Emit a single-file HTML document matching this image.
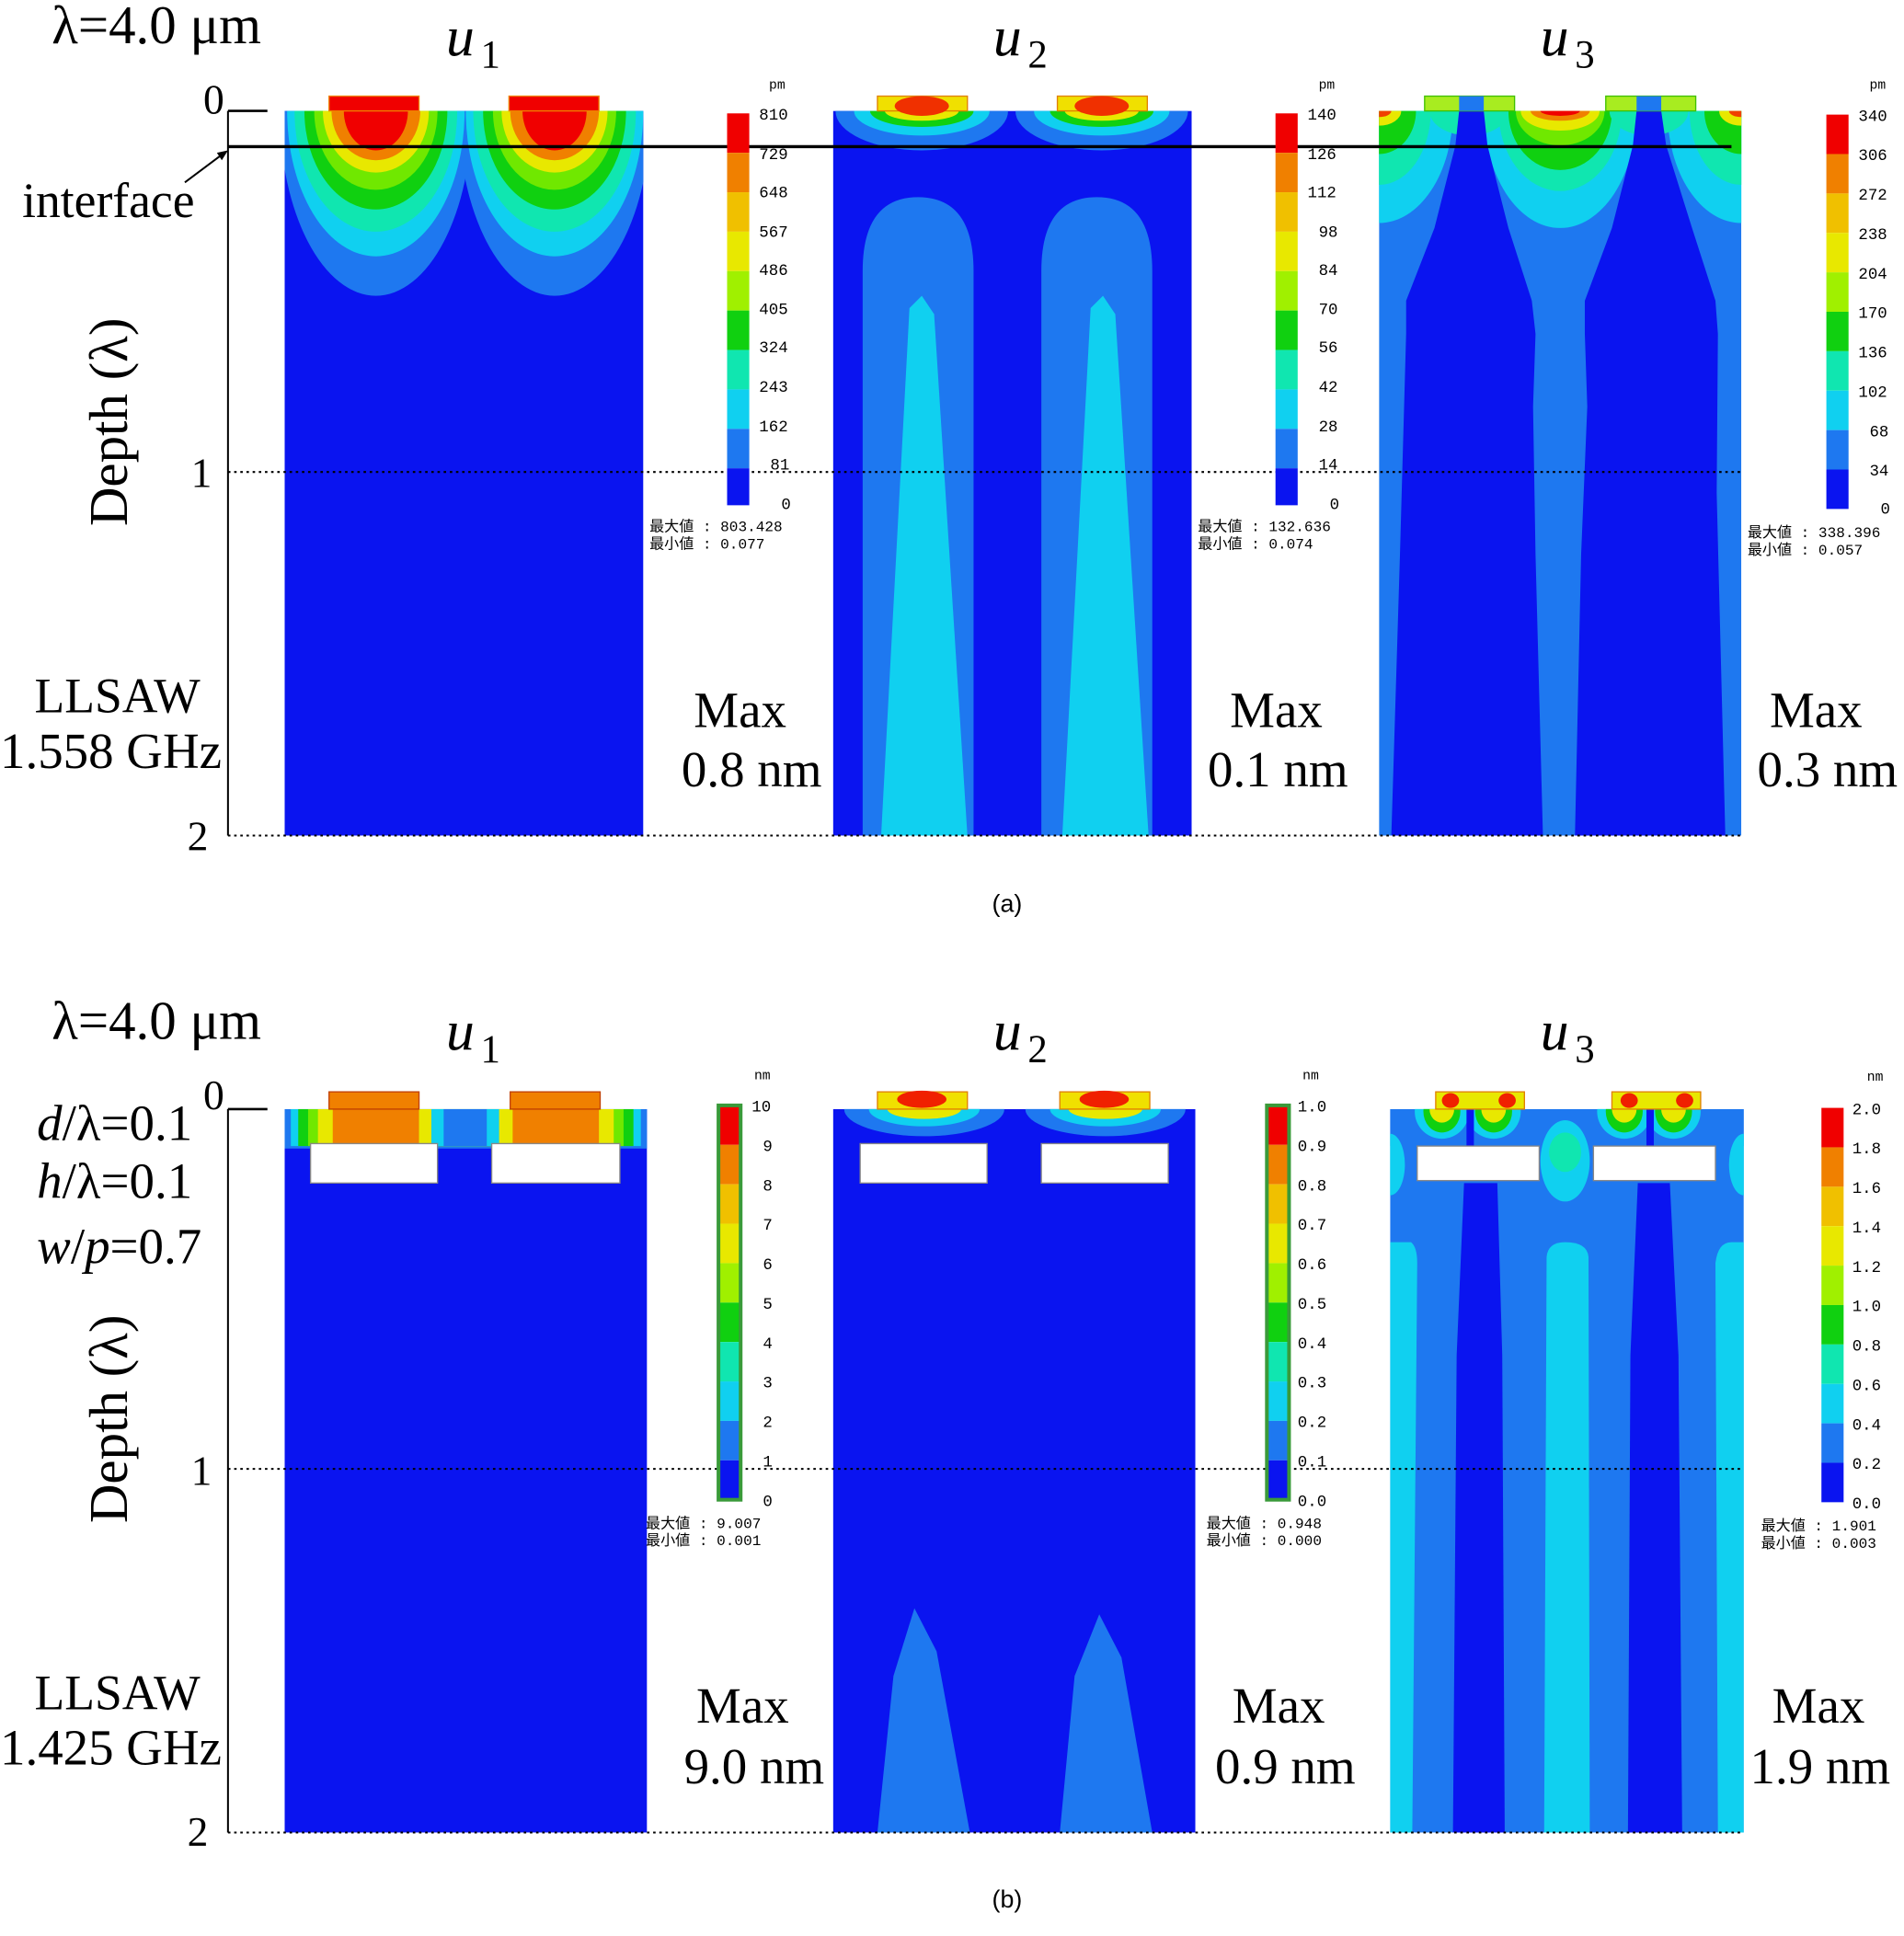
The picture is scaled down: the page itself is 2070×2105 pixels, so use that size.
<!DOCTYPE html>
<html><head><meta charset="utf-8"><style>
html,body{margin:0;padding:0;background:#fff}
svg{display:block}
.s{font-family:"Liberation Serif",serif;fill:#000}
.m{font-family:"Liberation Mono","Noto Sans CJK JP",monospace;fill:#000;font-size:13px}
.a{font-family:"Liberation Sans",sans-serif;fill:#000;font-size:20px}
</style></head><body>
<svg width="2070" height="2105" viewBox="0 0 1545 1571" preserveAspectRatio="none" xmlns="http://www.w3.org/2000/svg">
<defs>
<clipPath id="c1"><rect x="231" y="90" width="291" height="588"/></clipPath>
<clipPath id="c2"><rect x="676" y="90" width="291" height="588"/></clipPath>
<clipPath id="c3"><rect x="1119" y="90" width="294" height="588"/></clipPath>
<clipPath id="d1"><rect x="231" y="900" width="294" height="587"/></clipPath>
<clipPath id="d2"><rect x="676" y="900" width="294" height="587"/></clipPath>
<clipPath id="d3"><rect x="1128" y="900" width="287" height="587"/></clipPath>
</defs>
<!-- ===== (a) ===== -->
<text class="s" x="42" y="35" font-size="44">λ=4.0 μm</text>
<text class="s" x="362" y="45" font-size="46" font-style="italic">u</text><text class="s" x="390" y="55" font-size="32">1</text>
<text class="s" x="806" y="45" font-size="46" font-style="italic">u</text><text class="s" x="834" y="55" font-size="32">2</text>
<text class="s" x="1250" y="45" font-size="46" font-style="italic">u</text><text class="s" x="1278" y="55" font-size="32">3</text>
<text class="s" x="165" y="92" font-size="34">0</text>
<text class="s" x="155" y="395" font-size="34">1</text>
<text class="s" x="152" y="690" font-size="34">2</text>
<text class="s" x="18" y="176" font-size="40">interface</text>
<text class="s" font-size="44" transform="translate(103,427) rotate(-90)">Depth (λ)</text>
<text class="s" x="28" y="578" font-size="40">LLSAW</text>
<text class="s" x="0" y="623" font-size="41">1.558 GHz</text>
<line x1="185" y1="90" x2="185" y2="678" stroke="#000" stroke-width="1.5"/>
<line x1="185" y1="90" x2="217" y2="90" stroke="#000" stroke-width="2"/>

<!-- u1 a -->
<g clip-path="url(#c1)">
<rect x="231" y="90" width="291" height="588" fill="#0a14f0"/>
<ellipse cx="305" cy="90" rx="78" ry="150" fill="#1e78f0"/><ellipse cx="450" cy="90" rx="78" ry="150" fill="#1e78f0"/>
<ellipse cx="305" cy="90" rx="72" ry="118" fill="#10d0f0"/><ellipse cx="450" cy="90" rx="72" ry="118" fill="#10d0f0"/>
<ellipse cx="305" cy="90" rx="66" ry="98" fill="#10e6b0"/><ellipse cx="450" cy="90" rx="66" ry="98" fill="#10e6b0"/>
<ellipse cx="305" cy="90" rx="58" ry="80" fill="#10d010"/><ellipse cx="450" cy="90" rx="58" ry="80" fill="#10d010"/>
<ellipse cx="305" cy="90" rx="50" ry="64" fill="#70e800"/><ellipse cx="450" cy="90" rx="50" ry="64" fill="#70e800"/>
<ellipse cx="305" cy="90" rx="43" ry="50" fill="#e8e800"/><ellipse cx="450" cy="90" rx="43" ry="50" fill="#e8e800"/>
<ellipse cx="305" cy="90" rx="36" ry="40" fill="#f08000"/><ellipse cx="450" cy="90" rx="36" ry="40" fill="#f08000"/>
<ellipse cx="305" cy="90" rx="26" ry="32" fill="#f00000"/><ellipse cx="450" cy="90" rx="26" ry="32" fill="#f00000"/>
</g>
<rect x="267" y="78" width="73" height="12" fill="#f00000" stroke="#f08000"/>
<rect x="413" y="78" width="73" height="12" fill="#f00000" stroke="#f08000"/>

<!-- u2 a -->
<g clip-path="url(#c2)">
<rect x="676" y="90" width="291" height="588" fill="#0a14f0"/>
<path d="M700 678 L700 220 Q700 160 745 160 Q790 160 790 220 L790 678Z" fill="#1e78f0"/>
<path d="M845 678 L845 220 Q845 160 890 160 Q935 160 935 220 L935 678Z" fill="#1e78f0"/>
<path d="M715 678 L738 250 L748 240 L758 255 L785 678Z" fill="#10d0f0"/>
<path d="M862 678 L885 250 L895 240 L905 255 L932 678Z" fill="#10d0f0"/>
<ellipse cx="748" cy="90" rx="70" ry="32" fill="#1e78f0"/><ellipse cx="894" cy="90" rx="70" ry="32" fill="#1e78f0"/>
<ellipse cx="748" cy="90" rx="55" ry="20" fill="#10d0f0"/><ellipse cx="894" cy="90" rx="55" ry="20" fill="#10d0f0"/>
<ellipse cx="748" cy="90" rx="42" ry="13" fill="#10d010"/><ellipse cx="894" cy="90" rx="42" ry="13" fill="#10d010"/>
<ellipse cx="748" cy="90" rx="30" ry="8" fill="#e8e800"/><ellipse cx="894" cy="90" rx="30" ry="8" fill="#e8e800"/>
</g>
<rect x="712" y="78" width="73" height="12" fill="#f0e000" stroke="#e08000"/>
<rect x="858" y="78" width="73" height="12" fill="#f0e000" stroke="#e08000"/>
<ellipse cx="748" cy="86" rx="22" ry="8" fill="#f03000"/><ellipse cx="894" cy="86" rx="22" ry="8" fill="#f03000"/>

<!-- u3 a -->
<g clip-path="url(#c3)">
<rect x="1119" y="90" width="294" height="588" fill="#1e78f0"/>
<!-- top colored regions -->
<ellipse cx="1119" cy="90" rx="60" ry="91" fill="#10d0f0"/>
<ellipse cx="1413" cy="90" rx="60" ry="91" fill="#10d0f0"/>
<ellipse cx="1266" cy="90" rx="62" ry="95" fill="#10d0f0"/>
<ellipse cx="1119" cy="90" rx="42" ry="60" fill="#10e6b0"/>
<ellipse cx="1413" cy="90" rx="42" ry="60" fill="#10e6b0"/>
<ellipse cx="1266" cy="90" rx="50" ry="65" fill="#10e6b0"/>
<ellipse cx="1266" cy="90" rx="42" ry="48" fill="#10d010"/>
<ellipse cx="1119" cy="90" rx="30" ry="35" fill="#10d010"/>
<ellipse cx="1413" cy="90" rx="30" ry="35" fill="#10d010"/>
<rect x="1119" y="90" width="294" height="18" fill="#10d010" opacity="0.0"/>
<ellipse cx="1266" cy="90" rx="36" ry="28" fill="#70e800"/>
<ellipse cx="1266" cy="90" rx="32" ry="16" fill="#e8e800"/>
<ellipse cx="1266" cy="90" rx="24" ry="8" fill="#f08000"/>
<ellipse cx="1266" cy="90" rx="16" ry="4" fill="#f00000"/>
<ellipse cx="1119" cy="90" rx="18" ry="12" fill="#e8e800"/>
<ellipse cx="1413" cy="90" rx="18" ry="12" fill="#e8e800"/>
<ellipse cx="1119" cy="90" rx="10" ry="5" fill="#f04000"/>
<ellipse cx="1413" cy="90" rx="10" ry="5" fill="#f04000"/>
<!-- middle area near electrodes: green over electrodes zones -->
<ellipse cx="1192" cy="90" rx="32" ry="20" fill="#10e6b0"/>
<ellipse cx="1338" cy="90" rx="32" ry="20" fill="#10e6b0"/>
<!-- dark columns -->
<path d="M1184 90 L1204 90 L1207 118 L1224 185 L1243 244 L1246 271 L1244 330 L1246 450 L1252 678 L1129 678 L1136 450 L1141 271 L1141 244 L1164 185 L1181 118Z" fill="#0a14f0"/>
<path d="M1328 90 L1348 90 L1352 118 L1373 185 L1392 244 L1394 271 L1393 400 L1400 678 L1278 678 L1283 450 L1288 330 L1286 271 L1286 244 L1308 185 L1325 118Z" fill="#0a14f0"/>
</g>
<rect x="1156" y="78" width="73" height="12" fill="#a8ec20" stroke="#40c000"/>
<rect x="1303" y="78" width="73" height="12" fill="#a8ec20" stroke="#40c000"/>
<rect x="1184" y="78" width="20" height="12" fill="#1e78f0"/>
<rect x="1328" y="78" width="20" height="12" fill="#1e78f0"/>

<line x1="185" y1="119" x2="1405" y2="119" stroke="#000" stroke-width="2.5"/>
<line x1="185" y1="383" x2="1413" y2="383" stroke="#000" stroke-width="1.5" stroke-dasharray="2,3"/>
<line x1="185" y1="678" x2="1413" y2="678" stroke="#000" stroke-width="1.5" stroke-dasharray="2,3"/>
<text class="s" x="563" y="590" font-size="41">Max</text><text class="s" x="553" y="638" font-size="41">0.8 nm</text>
<text class="s" x="998" y="590" font-size="41">Max</text><text class="s" x="980" y="638" font-size="41">0.1 nm</text>
<text class="s" x="1436" y="590" font-size="41">Max</text><text class="s" x="1426" y="638" font-size="41">0.3 nm</text>
<text class="a" x="805" y="740">(a)</text>

<!-- ===== (b) ===== -->
<text class="s" x="42" y="843" font-size="44">λ=4.0 μm</text>
<text class="s" x="362" y="852" font-size="46" font-style="italic">u</text><text class="s" x="390" y="862" font-size="32">1</text>
<text class="s" x="806" y="852" font-size="46" font-style="italic">u</text><text class="s" x="834" y="862" font-size="32">2</text>
<text class="s" x="1250" y="852" font-size="46" font-style="italic">u</text><text class="s" x="1278" y="862" font-size="32">3</text>
<text class="s" x="165" y="900" font-size="34">0</text>
<text class="s" x="155" y="1205" font-size="34">1</text>
<text class="s" x="152" y="1498" font-size="34">2</text>
<text class="s" x="30" y="925" font-size="41"><tspan font-style="italic">d</tspan>/λ=0.1</text>
<text class="s" x="30" y="972" font-size="41"><tspan font-style="italic">h</tspan>/λ=0.1</text>
<text class="s" x="30" y="1025" font-size="41"><tspan font-style="italic">w</tspan>/<tspan font-style="italic">p</tspan>=0.7</text>
<text class="s" font-size="44" transform="translate(103,1236) rotate(-90)">Depth (λ)</text>
<text class="s" x="28" y="1387" font-size="40">LLSAW</text>
<text class="s" x="0" y="1432" font-size="41">1.425 GHz</text>
<line x1="185" y1="900" x2="185" y2="1487" stroke="#000" stroke-width="1.5"/>
<line x1="185" y1="900" x2="217" y2="900" stroke="#000" stroke-width="2"/>

<!-- u1 b -->
<g clip-path="url(#d1)">
<rect x="231" y="900" width="294" height="587" fill="#0a14f0"/>
<rect x="231" y="900" width="294" height="32" fill="#1e78f0"/>
<rect x="236" y="900" width="284" height="30" fill="#10d0f0"/>
<rect x="242" y="900" width="272" height="30" fill="#10d010"/>
<rect x="250" y="900" width="256" height="30" fill="#70e800"/>
<rect x="258" y="900" width="240" height="30" fill="#e8e800"/>
<rect x="270" y="900" width="70" height="30" fill="#f08000"/>
<rect x="416" y="900" width="70" height="30" fill="#f08000"/>
<rect x="350" y="900" width="55" height="30" fill="#10d0f0"/>
<rect x="360" y="900" width="35" height="30" fill="#1e78f0"/>
</g>
<rect x="252" y="928" width="103" height="32" fill="#fff" stroke="#888"/>
<rect x="399" y="928" width="104" height="32" fill="#fff" stroke="#888"/>
<rect x="267" y="886" width="73" height="14" fill="#f08000" stroke="#c04000"/>
<rect x="414" y="886" width="73" height="14" fill="#f08000" stroke="#c04000"/>

<!-- u2 b -->
<g clip-path="url(#d2)">
<rect x="676" y="900" width="294" height="587" fill="#0a14f0"/>
<path d="M712 1487 L725 1360 L742 1305 L760 1340 L787 1487Z" fill="#1e78f0"/>
<path d="M860 1487 L872 1360 L892 1310 L910 1345 L935 1487Z" fill="#1e78f0"/>
<ellipse cx="750" cy="900" rx="65" ry="22" fill="#1e78f0"/><ellipse cx="897" cy="900" rx="65" ry="22" fill="#1e78f0"/>
<ellipse cx="750" cy="900" rx="45" ry="14" fill="#10d0f0"/><ellipse cx="897" cy="900" rx="45" ry="14" fill="#10d0f0"/>
<ellipse cx="750" cy="900" rx="30" ry="8" fill="#e8e800"/><ellipse cx="897" cy="900" rx="30" ry="8" fill="#e8e800"/>
</g>
<rect x="698" y="928" width="103" height="32" fill="#fff" stroke="#888"/>
<rect x="845" y="928" width="103" height="32" fill="#fff" stroke="#888"/>
<rect x="712" y="886" width="73" height="14" fill="#f0e000" stroke="#e08000"/>
<rect x="860" y="886" width="73" height="14" fill="#f0e000" stroke="#e08000"/>
<ellipse cx="748" cy="892" rx="20" ry="7" fill="#f02000"/><ellipse cx="896" cy="892" rx="20" ry="7" fill="#f02000"/>

<!-- u3 b -->
<g clip-path="url(#d3)">
<rect x="1128" y="900" width="287" height="587" fill="#1e78f0"/>
<path d="M1128 1487 L1128 1008 L1145 1008 Q1150 1012 1150 1025 L1146 1487Z" fill="#10d0f0"/>
<path d="M1253 1487 L1255 1020 Q1256 1008 1270 1008 Q1288 1008 1289 1020 L1290 1487Z" fill="#10d0f0"/>
<path d="M1394 1487 L1392 1025 Q1394 1008 1405 1008 L1415 1008 L1415 1487Z" fill="#10d0f0"/>
<path d="M1179 1487 L1182 1100 L1188 960 L1215 960 L1219 1100 L1221 1487Z" fill="#0a14f0"/>
<path d="M1321 1487 L1323 1100 L1329 960 L1355 960 L1362 1100 L1365 1487Z" fill="#0a14f0"/>
<!-- top strip -->
<rect x="1128" y="900" width="287" height="30" fill="#1e78f0"/>
<ellipse cx="1270" cy="942" rx="20" ry="33" fill="#10d0f0"/>
<ellipse cx="1270" cy="935" rx="13" ry="16" fill="#10e6b0"/>
<ellipse cx="1128" cy="945" rx="12" ry="25" fill="#10d0f0"/>
<ellipse cx="1415" cy="945" rx="12" ry="25" fill="#10d0f0"/>
<g fill="#10d0f0"><ellipse cx="1170" cy="902" rx="22" ry="22"/><ellipse cx="1212" cy="902" rx="22" ry="22"/><ellipse cx="1318" cy="902" rx="22" ry="22"/><ellipse cx="1358" cy="902" rx="22" ry="22"/></g>
<g fill="#10d010"><ellipse cx="1170" cy="902" rx="15" ry="17"/><ellipse cx="1212" cy="902" rx="15" ry="17"/><ellipse cx="1318" cy="902" rx="15" ry="17"/><ellipse cx="1358" cy="902" rx="15" ry="17"/></g>
<g fill="#e8e800"><ellipse cx="1170" cy="900" rx="10" ry="11"/><ellipse cx="1212" cy="900" rx="10" ry="11"/><ellipse cx="1318" cy="900" rx="10" ry="11"/><ellipse cx="1358" cy="900" rx="10" ry="11"/></g>
<rect x="1190" y="900" width="6" height="30" fill="#0a14f0"/>
<rect x="1336" y="900" width="6" height="30" fill="#0a14f0"/>
</g>
<rect x="1150" y="930" width="99" height="28" fill="#fff" stroke="#888"/>
<rect x="1293" y="930" width="99" height="28" fill="#fff" stroke="#888"/>
<rect x="1165" y="886" width="72" height="14" fill="#e8e800" stroke="#e08000"/>
<rect x="1308" y="886" width="72" height="14" fill="#e8e800" stroke="#e08000"/>
<g fill="#f02000"><ellipse cx="1177" cy="893" rx="7" ry="6"/><ellipse cx="1223" cy="893" rx="7" ry="6"/><ellipse cx="1322" cy="893" rx="7" ry="6"/><ellipse cx="1367" cy="893" rx="7" ry="6"/></g>

<line x1="185" y1="1192" x2="1415" y2="1192" stroke="#000" stroke-width="1.5" stroke-dasharray="2,3"/>
<line x1="185" y1="1487" x2="1415" y2="1487" stroke="#000" stroke-width="1.5" stroke-dasharray="2,3"/>
<text class="s" x="565" y="1398" font-size="41">Max</text><text class="s" x="555" y="1447" font-size="41">9.0 nm</text>
<text class="s" x="1000" y="1398" font-size="41">Max</text><text class="s" x="986" y="1447" font-size="41">0.9 nm</text>
<text class="s" x="1438" y="1398" font-size="41">Max</text><text class="s" x="1420" y="1447" font-size="41">1.9 nm</text>
<text class="a" x="805" y="1548">(b)</text>

<!-- colorbars -->
<g transform="translate(590,92)">
<rect y="0" width="18" height="32" fill="#f00000"/><rect y="32" width="18" height="32" fill="#f08000"/><rect y="64" width="18" height="32" fill="#f0c000"/><rect y="96" width="18" height="32" fill="#e8e800"/><rect y="128" width="18" height="32" fill="#a0f000"/><rect y="160" width="18" height="32" fill="#10d010"/><rect y="192" width="18" height="32" fill="#10e6b0"/><rect y="224" width="18" height="32" fill="#10d0f0"/><rect y="256" width="18" height="32" fill="#1e78f0"/><rect y="288" width="18" height="30" fill="#0a14f0"/>
</g>
<g transform="translate(1035,92)">
<rect y="0" width="18" height="32" fill="#f00000"/><rect y="32" width="18" height="32" fill="#f08000"/><rect y="64" width="18" height="32" fill="#f0c000"/><rect y="96" width="18" height="32" fill="#e8e800"/><rect y="128" width="18" height="32" fill="#a0f000"/><rect y="160" width="18" height="32" fill="#10d010"/><rect y="192" width="18" height="32" fill="#10e6b0"/><rect y="224" width="18" height="32" fill="#10d0f0"/><rect y="256" width="18" height="32" fill="#1e78f0"/><rect y="288" width="18" height="30" fill="#0a14f0"/>
</g>
<g transform="translate(1482,93)">
<rect y="0" width="18" height="32" fill="#f00000"/><rect y="32" width="18" height="32" fill="#f08000"/><rect y="64" width="18" height="32" fill="#f0c000"/><rect y="96" width="18" height="32" fill="#e8e800"/><rect y="128" width="18" height="32" fill="#a0f000"/><rect y="160" width="18" height="32" fill="#10d010"/><rect y="192" width="18" height="32" fill="#10e6b0"/><rect y="224" width="18" height="32" fill="#10d0f0"/><rect y="256" width="18" height="32" fill="#1e78f0"/><rect y="288" width="18" height="32" fill="#0a14f0"/>
</g>
<g transform="translate(583,897)">
<rect y="0" width="18" height="32" fill="#f00000"/><rect y="32" width="18" height="32" fill="#f08000"/><rect y="64" width="18" height="32" fill="#f0c000"/><rect y="96" width="18" height="32" fill="#e8e800"/><rect y="128" width="18" height="32" fill="#a0f000"/><rect y="160" width="18" height="32" fill="#10d010"/><rect y="192" width="18" height="32" fill="#10e6b0"/><rect y="224" width="18" height="32" fill="#10d0f0"/><rect y="256" width="18" height="32" fill="#1e78f0"/><rect y="288" width="18" height="32" fill="#0a14f0"/>
<rect width="18" height="320" fill="none" stroke="#3a9a3a" stroke-width="3"/>
</g>
<g transform="translate(1028,897)">
<rect y="0" width="18" height="32" fill="#f00000"/><rect y="32" width="18" height="32" fill="#f08000"/><rect y="64" width="18" height="32" fill="#f0c000"/><rect y="96" width="18" height="32" fill="#e8e800"/><rect y="128" width="18" height="32" fill="#a0f000"/><rect y="160" width="18" height="32" fill="#10d010"/><rect y="192" width="18" height="32" fill="#10e6b0"/><rect y="224" width="18" height="32" fill="#10d0f0"/><rect y="256" width="18" height="32" fill="#1e78f0"/><rect y="288" width="18" height="32" fill="#0a14f0"/>
<rect width="18" height="320" fill="none" stroke="#3a9a3a" stroke-width="3"/>
</g>
<g transform="translate(1478,899)">
<rect y="0" width="18" height="32" fill="#f00000"/><rect y="32" width="18" height="32" fill="#f08000"/><rect y="64" width="18" height="32" fill="#f0c000"/><rect y="96" width="18" height="32" fill="#e8e800"/><rect y="128" width="18" height="32" fill="#a0f000"/><rect y="160" width="18" height="32" fill="#10d010"/><rect y="192" width="18" height="32" fill="#10e6b0"/><rect y="224" width="18" height="32" fill="#10d0f0"/><rect y="256" width="18" height="32" fill="#1e78f0"/><rect y="288" width="18" height="32" fill="#0a14f0"/>
</g>
<!-- colorbar labels -->
<g class="m" font-size="15">
<text x="624" y="72" font-size="11">pm</text>
<text x="616" y="97">810</text><text x="616" y="129">729</text><text x="616" y="160">648</text><text x="616" y="192">567</text><text x="616" y="223">486</text><text x="616" y="255">405</text><text x="616" y="286">324</text><text x="616" y="318">243</text><text x="616" y="350">162</text><text x="625" y="381">81</text><text x="634" y="413">0</text>
<text x="527" y="431" font-size="12">最大値 : 803.428</text><text x="527" y="445" font-size="12">最小値 :   0.077</text>
<text x="1070" y="72" font-size="11">pm</text>
<text x="1061" y="97">140</text><text x="1061" y="129">126</text><text x="1061" y="160">112</text><text x="1070" y="192">98</text><text x="1070" y="223">84</text><text x="1070" y="255">70</text><text x="1070" y="286">56</text><text x="1070" y="318">42</text><text x="1070" y="350">28</text><text x="1070" y="381">14</text><text x="1079" y="413">0</text>
<text x="972" y="431" font-size="12">最大値 : 132.636</text><text x="972" y="445" font-size="12">最小値 :   0.074</text>
<text x="1517" y="72" font-size="11">pm</text>
<text x="1508" y="98">340</text><text x="1508" y="130">306</text><text x="1508" y="162">272</text><text x="1508" y="194">238</text><text x="1508" y="226">204</text><text x="1508" y="258">170</text><text x="1508" y="290">136</text><text x="1508" y="322">102</text><text x="1517" y="354">68</text><text x="1517" y="386">34</text><text x="1526" y="417">0</text>
<text x="1418" y="436" font-size="12">最大値 : 338.396</text><text x="1418" y="450" font-size="12">最小値 :   0.057</text>

<text x="612" y="876" font-size="11">nm</text>
<text x="610" y="902">10</text><text x="619" y="934">9</text><text x="619" y="966">8</text><text x="619" y="998">7</text><text x="619" y="1030">6</text><text x="619" y="1062">5</text><text x="619" y="1094">4</text><text x="619" y="1126">3</text><text x="619" y="1158">2</text><text x="619" y="1190">1</text><text x="619" y="1222">0</text>
<text x="524" y="1240" font-size="12">最大値 : 9.007</text><text x="524" y="1254" font-size="12">最小値 : 0.001</text>
<text x="1057" y="876" font-size="11">nm</text>
<text x="1053" y="902">1.0</text><text x="1053" y="934">0.9</text><text x="1053" y="966">0.8</text><text x="1053" y="998">0.7</text><text x="1053" y="1030">0.6</text><text x="1053" y="1062">0.5</text><text x="1053" y="1094">0.4</text><text x="1053" y="1126">0.3</text><text x="1053" y="1158">0.2</text><text x="1053" y="1190">0.1</text><text x="1053" y="1222">0.0</text>
<text x="979" y="1240" font-size="12">最大値 : 0.948</text><text x="979" y="1254" font-size="12">最小値 : 0.000</text>
<text x="1515" y="877" font-size="11">nm</text>
<text x="1503" y="904">2.0</text><text x="1503" y="936">1.8</text><text x="1503" y="968">1.6</text><text x="1503" y="1000">1.4</text><text x="1503" y="1032">1.2</text><text x="1503" y="1064">1.0</text><text x="1503" y="1096">0.8</text><text x="1503" y="1128">0.6</text><text x="1503" y="1160">0.4</text><text x="1503" y="1192">0.2</text><text x="1503" y="1224">0.0</text>
<text x="1429" y="1242" font-size="12">最大値 : 1.901</text><text x="1429" y="1256" font-size="12">最小値 : 0.003</text>
</g>
<!-- interface arrow -->
<line x1="150" y1="148" x2="182" y2="124" stroke="#000" stroke-width="1.5"/>
<path d="M185 122 L176 124 L180 130Z" fill="#000"/>
</svg>
</body></html>
